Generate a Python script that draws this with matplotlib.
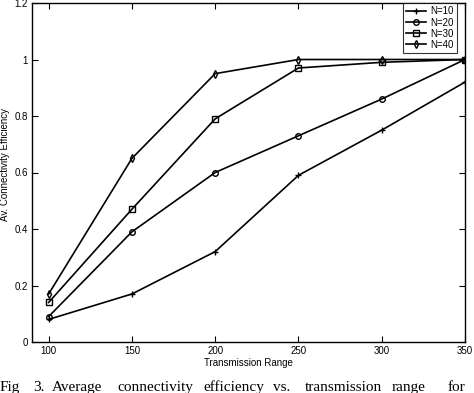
import matplotlib
matplotlib.use("Agg")
import matplotlib.pyplot as plt

ranges = [100, 150, 200, 250, 300, 350]
n10 = [0.08, 0.17, 0.32, 0.59, 0.75, 0.92]
n20 = [0.09, 0.39, 0.60, 0.73, 0.86, 1.00]
n30 = [0.14, 0.47, 0.79, 0.97, 0.99, 1.00]
n40 = [0.17, 0.65, 0.95, 1.00, 1.00, 1.00]
labels = ["N=10", "N=20", "N=30", "N=40"]
markers = ["+", "o", "s", "d"]

caption_words = ["Fig", "3.", "Average", "connectivity", "efficiency", "vs.",
                 "transmission", "range", "for"]
caption_x = [0, 33, 52, 117, 203, 273, 305, 392, 448]

plt.rcParams['font.family'] = ['Liberation Sans', 'DejaVu Sans']
fig = plt.figure(figsize=(4.74, 3.93), dpi=100)
ax = fig.add_axes([32/474, 1-342/393, (465-32)/474, (342-3)/393])

for ys, lab, m in zip([n10, n20, n30, n40], labels, markers):
    ax.plot(ranges, ys, color='black', lw=1.2, marker=m, markersize=5 if m == '+' else 4,
            markerfacecolor='none', markeredgecolor='black', markeredgewidth=1.0, label=lab)

ax.set_xlim(90, 350)
ax.set_ylim(0, 1.2)
ax.set_xticks([100, 150, 200, 250, 300, 350])
ax.set_yticks([0, 0.2, 0.4, 0.6, 0.8, 1.0, 1.2])
ax.set_yticklabels(['0', '0.2', '0.4', '0.6', '0.8', '1', '1.2'])
ax.tick_params(direction='in', top=True, right=True, labelsize=7, length=4, width=0.8, pad=3)
for s in ax.spines.values():
    s.set_linewidth(1.0)
ax.set_xlabel("Transmission Range", fontsize=7, labelpad=1)
ax.set_ylabel("Av. Connectivity Efficiency", fontsize=7)
ax.yaxis.set_label_coords(-0.05, 0.525)

leg = ax.legend(loc='upper right', bbox_to_anchor=(0.982, 1.0), fontsize=7, frameon=True,
                fancybox=False, edgecolor='black', borderpad=0.35, labelspacing=0.12,
                handlelength=2.0, handletextpad=0.5, borderaxespad=0.0)
leg.get_frame().set_linewidth(0.8)

for w, xp in zip(caption_words, caption_x):
    fig.text(xp/474, 1-391/393, w, fontsize=11,
             family=['Liberation Serif', 'DejaVu Serif'], va='baseline', ha='left')

fig.savefig("out.png", dpi=100)
